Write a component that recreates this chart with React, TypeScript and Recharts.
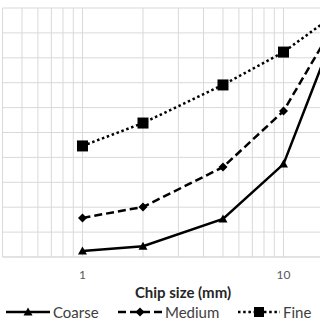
import React from 'react';
import { LineChart, Line, XAxis, YAxis, CartesianGrid } from 'recharts';

const sizes = [1, 2, 5, 10, 20];
const coarse = [2.4, 4.3, 15.3, 37.3, 100];
const medium = [15.7, 20.1, 36.1, 58.6, 100];
const fine = [44.6, 53.8, 69.1, 82.3, 100];
const xTicks = [0.4, 0.5, 0.6, 0.7, 0.8, 0.9, 1, 2, 3, 4, 5, 6, 7, 8, 9, 10, 20];
const yTicks = [0, 10, 20, 30, 40, 50, 60, 70, 80, 90, 100];
const labeledTicks = [1, 10];

const data = sizes.map((s, i) => ({ size: s, coarse: coarse[i], medium: medium[i], fine: fine[i] }));

const FONT = 'Lato, "Open Sans", sans-serif';

const Triangle = (props: any) => {
  const { cx, cy } = props;
  if (cx == null || cy == null) return null;
  return <polygon points={`${cx},${cy - 4.5} ${cx + 4.5},${cy + 3.5} ${cx - 4.5},${cy + 3.5}`} fill="#000" />;
};
const Diamond = (props: any) => {
  const { cx, cy } = props;
  if (cx == null || cy == null) return null;
  return <polygon points={`${cx},${cy - 4.5} ${cx + 4.5},${cy} ${cx},${cy + 4.5} ${cx - 4.5},${cy}`} fill="#000" />;
};
const Square = (props: any) => {
  const { cx, cy } = props;
  if (cx == null || cy == null) return null;
  return <rect x={cx - 5.5} y={cy - 5.5} width={11} height={11} fill="#000" />;
};

const LegendItem = ({ kind, label, left, lineW }: { kind: string; label: string; left: number; lineW: number }) => {
  const mid = lineW / 2;
  let dash: string | undefined;
  if (kind === 'medium') dash = '8 4';
  if (kind === 'fine') dash = '2.5 2.7';
  return (
    <div style={{ position: 'absolute', left, top: 302, display: 'flex', alignItems: 'center', height: 20 }}>
      <svg width={lineW} height={20} style={{ display: 'block' }}>
        <line x1={0} y1={10} x2={lineW} y2={10} stroke="#000" strokeWidth={2.5} strokeDasharray={dash} />
        {kind === 'coarse' && <polygon points={`${mid},${5.5} ${mid + 4.5},${13.5} ${mid - 4.5},${13.5}`} fill="#000" />}
        {kind === 'medium' && <polygon points={`${mid},${5.5} ${mid + 4.5},${10} ${mid},${14.5} ${mid - 4.5},${10}`} fill="#000" />}
        {kind === 'fine' && <rect x={mid - 5} y={5} width={10} height={10} fill="#000" />}
      </svg>
      <span style={{ marginLeft: 3, fontFamily: FONT, fontSize: 15, color: '#404040', lineHeight: '20px' }}>{label}</span>
    </div>
  );
};

export default function App() {
  return (
    <div style={{ position: 'absolute', left: 0, top: 0, width: 320, height: 320, overflow: 'hidden', background: '#fff' }}>
      <LineChart width={344} height={320} data={data} margin={{ top: 8, right: 0, bottom: 33, left: 2.5 }}>
        <CartesianGrid stroke="#d9d9d9" strokeWidth={1} />
        <XAxis
          dataKey="size"
          type="number"
          scale="log"
          domain={[0.4, 20]}
          ticks={xTicks}
          interval={0}
          allowDataOverflow
          height={30}
          tickSize={0}
          tickMargin={13}
          tickLine={false}
          axisLine={{ stroke: '#d9d9d9' }}
          tick={{ fill: '#595959', fontSize: 12, fontFamily: FONT }}
          tickFormatter={(v: number) => (labeledTicks.includes(v) ? String(v) : '')}
        />
        <YAxis
          type="number"
          domain={[0, 100]}
          ticks={yTicks}
          interval={0}
          width={0}
          tickSize={0}
          tick={() => <g />}
          axisLine={false}
          tickLine={false}
        />
        <Line dataKey="coarse" stroke="#000" strokeWidth={2.5} dot={<Triangle />} activeDot={false} isAnimationActive={false} />
        <Line dataKey="medium" stroke="#000" strokeWidth={2.5} strokeDasharray="8 4" dot={<Diamond />} activeDot={false} isAnimationActive={false} />
        <Line dataKey="fine" stroke="#000" strokeWidth={2.5} strokeDasharray="2.5 2.7" dot={<Square />} activeDot={false} isAnimationActive={false} />
      </LineChart>
      <div style={{ position: 'absolute', left: 83, width: 200, top: 282, textAlign: 'center', fontFamily: FONT, fontWeight: 700, fontSize: 15, color: '#262626', lineHeight: '20px' }}>
        Chip size (mm)
      </div>
      <LegendItem kind="coarse" label="Coarse" left={6} lineW={44} />
      <LegendItem kind="medium" label="Medium" left={118} lineW={44} />
      <LegendItem kind="fine" label="Fine" left={238} lineW={42} />
    </div>
  );
}
